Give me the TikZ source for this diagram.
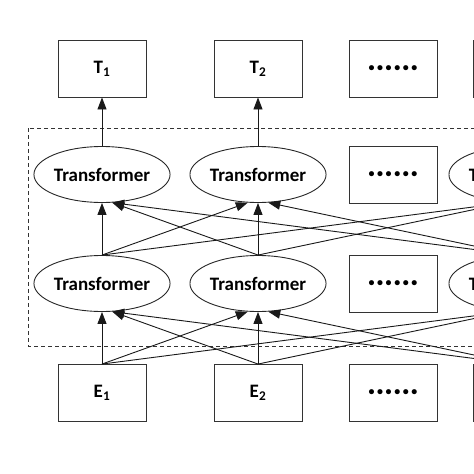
\documentclass[tikz,border=0pt]{standalone}
\usepackage{fontspec}
\setmainfont{Carlito}
\usetikzlibrary{shapes.geometric,arrows.meta}

\newcommand{\dotrow}{{\fontsize{12}{12}\selectfont\textbullet\kern2.6pt\textbullet\kern2.6pt\textbullet\kern2.6pt\textbullet\kern2.6pt\textbullet\kern2.6pt\textbullet}}

\tikzset{
  box/.style={draw=black!80, line width=0.9pt, minimum width=88pt, minimum height=57pt, inner sep=0pt},
  trm/.style={draw=black!85, line width=0.9pt, ellipse, minimum width=109pt, minimum height=56pt, inner sep=0pt},
  lbl/.style={font=\fontsize{19}{22}\selectfont\bfseries}
}

\begin{document}
\begin{tikzpicture}[x=1pt,y=-1pt]
    \clip (0,0) rectangle (474,474);
    \useasboundingbox (0,0) rectangle (474,474);
    %% Draw the encoder block
    \draw[dashed, dash pattern=on 4pt off 3pt, line width=0.9pt, black!80] (28,128) rectangle (520,346);
    %% Draw the output nodes
    \node[box, lbl] (T1) at (102,68.5) {T\textsubscript{1}};
    \node[box, lbl] (T2) at (258,68.5) {T\textsubscript{2}};
    \node[box, lbl] (D1) at (393,68.5) {\dotrow};
    \node[box, lbl] (TN) at (517,68.5) {};
    %% Draw the upper transformers
    \node[trm, lbl] (U1) at (102,174.5) {Transformer};
    \node[trm, lbl] (U2) at (258,174.5) {Transformer};
    \node[box, lbl] (D2) at (393,174.5) {\dotrow};
    \node[trm, lbl] (UN) at (517,174.5) {Transformer};
    %% Draw the lower transformers
    \node[trm, lbl] (L1) at (102,283.5) {Transformer};
    \node[trm, lbl] (L2) at (258,283.5) {Transformer};
    \node[box, lbl] (D3) at (393,283.5) {\dotrow};
    \node[trm, lbl] (LN) at (517,283.5) {Transformer};
    %% Draw the input nodes
    \node[box, lbl] (E1) at (102,393) {E\textsubscript{1}};
    \node[box, lbl] (E2) at (258,393) {E\textsubscript{2}};
    \node[box, lbl] (D4) at (393,393) {\dotrow};
    \node[box, lbl] (EN) at (517,393) {};
    %% Draw the edges
    \begin{scope}[every path/.style={-{Triangle[length=12pt,width=9pt]}, line width=0.9pt, black!90}]
      \draw (E1.north) -- (L1.south);
      \draw (E2.north) -- (L1.-70);
      \draw (EN.north) -- (L1.-70);
      \draw (E1.north) -- (L2.-110);
      \draw (E2.north) -- (L2.south);
      \draw (EN.north) -- (L2.-70);
      \draw (E1.north) -- (LN.-110);
      \draw (E2.north) -- (LN.-110);
      \draw (EN.north) -- (LN.south);
      \draw (L1.north) -- (U1.south);
      \draw (L2.north) -- (U1.-70);
      \draw (LN.north) -- (U1.-70);
      \draw (L1.north) -- (U2.-110);
      \draw (L2.north) -- (U2.south);
      \draw (LN.north) -- (U2.-70);
      \draw (L1.north) -- (UN.-110);
      \draw (L2.north) -- (UN.-110);
      \draw (LN.north) -- (UN.south);
      \draw (U1.north) -- (T1.south);
      \draw (U2.north) -- (T2.south);
      \draw (UN.north) -- (TN.south);
    \end{scope}
\end{tikzpicture}
\end{document}
